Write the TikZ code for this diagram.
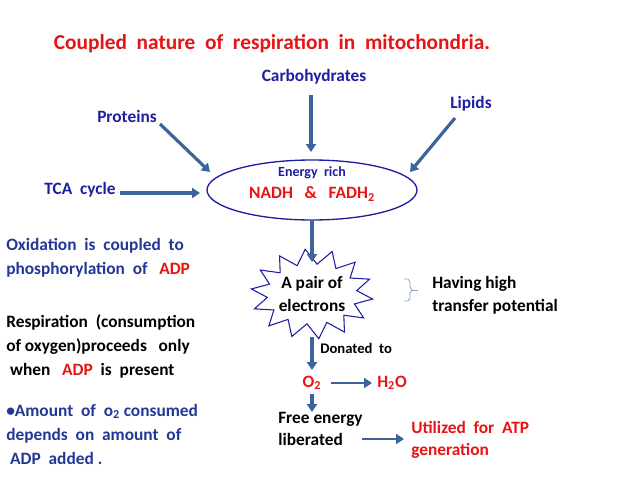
\documentclass[tikz,border=0pt]{standalone}
\usepackage{fontspec}
\setmainfont{Carlito}
\usetikzlibrary{arrows.meta}
\definecolor{navy}{RGB}{30,30,160}
\definecolor{dblue}{RGB}{35,55,150}
\definecolor{myred}{RGB}{230,20,20}
\definecolor{arrc}{RGB}{60,100,155}
\begin{document}
\begin{tikzpicture}[x=0.75pt,y=-0.75pt,
  lbl/.style={font=\bfseries\fontsize{13}{15}\selectfont, inner sep=0pt},
  arr/.style={line width=2.4pt, draw=arrc, -{Triangle[length=6pt,width=7.5pt]}},
  lt/.style={lbl, align=left, anchor=west}]
\useasboundingbox (0,0) rectangle (638,478);
\node[lbl, text=myred, font=\bfseries\fontsize{16}{18}\selectfont] (title) at (272,44) {Coupled\ \ nature\ \ of\ \ respiration\ \ in\ \ mitochondria.};
\node[lbl, text=navy] (carb) at (314,77) {Carbohydrates};
\node[lbl, text=navy] (prot) at (127,116) {Proteins};
\node[lbl, text=navy] (lip) at (471,104) {Lipids};
\node[lbl, text=navy] (tca) at (80,190) {TCA\ \ cycle};
\draw[navy, line width=1pt] (312,190) ellipse [x radius=105, y radius=30];
\coordinate (ell) at (312,190);
\node[lbl, text=navy, font=\bfseries\fontsize{10.5}{12}\selectfont] (er) at (312,173) {Energy\ \ rich};
\node[lbl, text=myred] (nadh) at (312,194) {NADH\ \ \ \&\ \ \ FADH\textsubscript{2}};
\draw[arr] (311,95) -- (311,152);
\draw[arr] (160,124) -- (210,172);
\draw[arr] (455,118) -- (410,172);
\draw[arr] (120,193) -- (200,193);
% star
\draw[navy, line width=0.8pt, fill=white] plot[samples at={0,...,27}, variable=\k]
  ({312+ifthenelse(mod(\k,2)==0,61,45)*cos(\k*360/28+6.43)},{294+ifthenelse(mod(\k,2)==0,45,30)*sin(\k*360/28+6.43)}) -- cycle;
\node[lbl, align=center] (pair) at (312,294) {A pair of\\[2pt]electrons};
\draw[arr] (312,221) -- (312,262);
\draw[draw=arrc!60, line width=0.6pt] (404,279) -- (408,279) -- (410,282) -- (410,287) -- (412,290) -- (410,293) -- (410,298) -- (408,301) -- (404,301);
\draw[draw=arrc!60, line width=0.6pt] (412,290) -- (418,290);
\node[lt] (hav) at (432,295) {Having high\\[2pt]transfer potential};
\draw[arr] (312,337) -- (312,370);
\node[lt, font=\bfseries\fontsize{11}{13}\selectfont] (don) at (320,348) {Donated\ \ to};
\node[lbl, text=myred] (o2) at (312,383) {O\textsubscript{2}};
\node[lbl, text=myred] (h2o) at (392,383) {H\textsubscript{2}O};
\draw[arr, line width=1.8pt] (331,383) -- (372,383);
\draw[arr] (312,394) -- (312,412);
\node[lt] (free) at (278,429) {Free energy\\[2pt]liberated};
\node[lt, text=myred] (util) at (411,440) {Utilized\ \ for\ \ ATP\\[2pt]generation};
\draw[arr, line width=1.8pt] (362,439) -- (404,439);
% left texts
\node[lt, text=dblue] (ox) at (6,258) {Oxidation\ \ is\ \ coupled\ \ to\\[3pt]phosphorylation\ \ of\ \ \ \textcolor{myred}{ADP}};
\node[lt] (resp) at (6,346) {Respiration\ \ (consumption\\[3pt]of oxygen)proceeds\ \ \ only\\[3pt]\ when\ \ \ \textcolor{myred}{ADP}\ \ is\ \ present};
\node[lt, text=dblue] (amt) at (6,434) {•Amount\ \ of\ \ o\textsubscript{2} consumed\\[3pt]depends\ \ on\ \ amount\ \ of\\[3pt]\ ADP\ \ added\ .};
\end{tikzpicture}
\end{document}
